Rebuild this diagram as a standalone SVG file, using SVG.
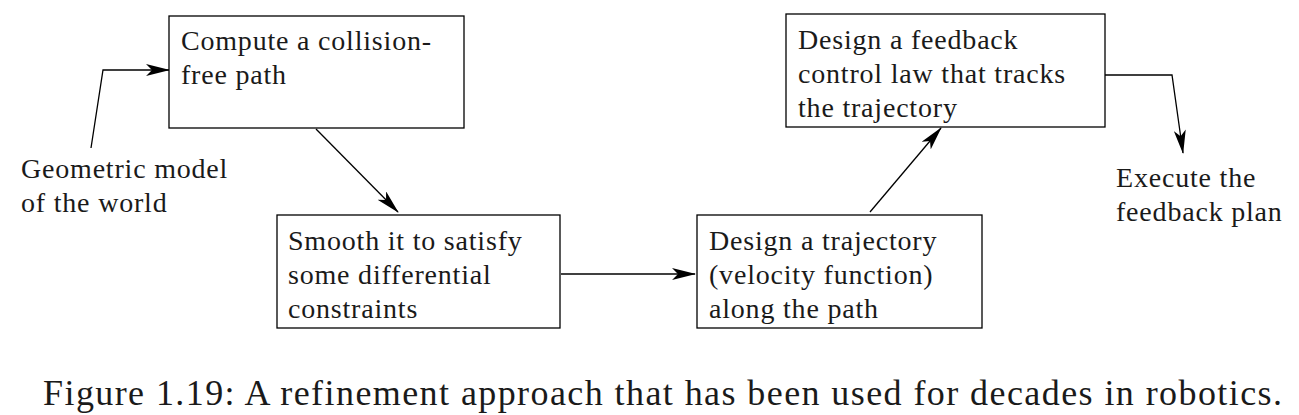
<svg xmlns="http://www.w3.org/2000/svg" width="1299" height="415" viewBox="0 0 1299 415">
<style>
.box{fill:#fff;stroke:#000;stroke-width:1.3}
.t{font-family:"Liberation Serif","DejaVu Serif",serif;font-size:28px;letter-spacing:0.8px;fill:#1a1a1a}
.c{font-family:"Liberation Serif","DejaVu Serif",serif;font-size:36px;fill:#1a1a1a}
.ln{fill:none;stroke:#000;stroke-width:1.3}
</style>
<defs>
<marker id="a" viewBox="0 0 24 12" refX="23" refY="6" markerWidth="24" markerHeight="12" markerUnits="userSpaceOnUse" orient="auto">
<path d="M0,0 L24,6 L0,12 L6,6 z" fill="#000"/>
</marker>
</defs>
<rect width="1299" height="415" fill="#fff"/>
<g id="connectors">
<polyline class="ln" points="91,148 103,70 169,70" marker-end="url(#a)"/>
<line class="ln" x1="316" y1="129" x2="398" y2="212" marker-end="url(#a)"/>
<line class="ln" x1="561" y1="274" x2="695" y2="274" marker-end="url(#a)"/>
<line class="ln" x1="870" y1="212" x2="941" y2="128" marker-end="url(#a)"/>
<polyline class="ln" points="1105,75 1172,75 1183,153" marker-end="url(#a)"/>
</g>
<g id="n1"><rect class="box" x="169" y="16" width="295" height="112"/>
<text class="t" x="181" y="50">Compute a collision-</text><text class="t" x="181" y="84">free path</text></g>
<g id="n2"><rect class="box" x="277" y="215" width="283" height="113"/>
<text class="t" x="288" y="250">Smooth it to satisfy</text><text class="t" x="288" y="284">some differential</text><text class="t" x="288" y="318">constraints</text></g>
<g id="n3"><rect class="box" x="697" y="215" width="285" height="113"/>
<text class="t" x="709" y="250">Design a trajectory</text><text class="t" x="709" y="284">(velocity function)</text><text class="t" x="709" y="318">along the path</text></g>
<g id="n4"><rect class="box" x="786" y="14" width="319" height="113"/>
<text class="t" x="798" y="49">Design a feedback</text><text class="t" x="798" y="83">control law that tracks</text><text class="t" x="798" y="117">the trajectory</text></g>
<g id="start"><text class="t" x="21" y="178">Geometric model</text><text class="t" x="21" y="212">of the world</text></g>
<g id="end"><text class="t" x="1116" y="187">Execute the</text><text class="t" x="1116" y="221">feedback plan</text></g>
<text class="c" x="43" y="405" textLength="1239" lengthAdjust="spacing">Figure 1.19: A refinement approach that has been used for decades in robotics.</text>
</svg>
